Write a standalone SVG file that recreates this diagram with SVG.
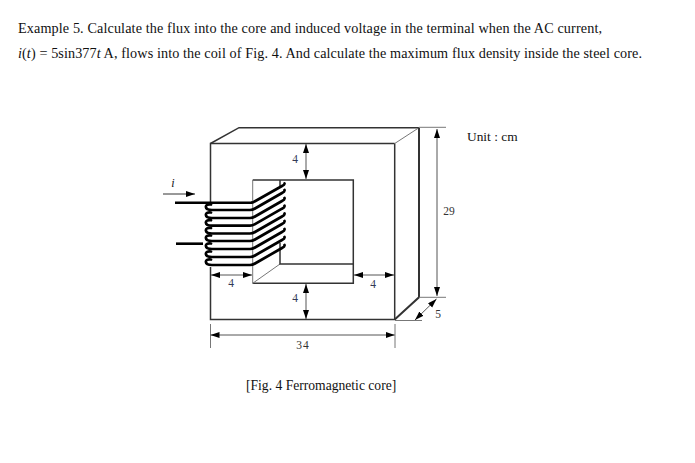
<svg xmlns="http://www.w3.org/2000/svg" width="695" height="463" viewBox="0 0 695 463">
<style>
text{font-family:"Liberation Serif","Times New Roman",serif;fill:#111}
.body{font-size:14.2px}
.dim{font-size:11.5px;fill:#333a55;text-anchor:middle}
.dimk{font-size:11.5px;fill:#333;text-anchor:middle}
.edge{fill:none;stroke:#333;stroke-width:1.5}
.edgeb{fill:none;stroke:#333;stroke-width:2}
.thin{fill:none;stroke:#777;stroke-width:1}
.dimline{fill:none;stroke:#555;stroke-width:1;marker-start:url(#ah);marker-end:url(#ah)}
.turn{fill:none;stroke:#000;stroke-width:2.7;stroke-linecap:round;stroke-linejoin:round}
.lead{fill:none;stroke:#000;stroke-width:2.6}
</style>
<defs>
<marker id="ah" markerUnits="userSpaceOnUse" markerWidth="10" markerHeight="7" refX="9" refY="3" orient="auto-start-reverse"><path d="M0,0L9,3L0,6Z" fill="#000"/></marker>
<path id="turn" d="M211,-5.5C204,-6.5 204,0 212,0H250Q252.5,0 255,-1.5L282,-17Q285,-18.5 284.5,-20"/>
</defs>
<g id="question">
<text class="body" x="18" y="33" textLength="584">Example 5. Calculate the flux into the core and induced voltage in the terminal when the AC current,</text>
<text class="body" x="18" y="58" textLength="624"><tspan font-style="italic">i</tspan>(<tspan font-style="italic">t</tspan>) = 5sin377<tspan font-style="italic">t</tspan> A, flows into the coil of Fig. 4. And calculate the maximum flux density inside the steel core.</text>
</g>
<text id="unit" x="467" y="141" font-size="13.4">Unit : cm</text>
<g id="core">
<path class="edge" d="M394.7,143.5H210.5V202M210.5,267V319.5H394.7V143.5"/>
<path class="edge" d="M210.5,143.5L239,127.7H419"/>
<path class="thin" d="M394.7,143.5L419,127.7"/>
<path class="edgeb" d="M419,127.7V297.3L394.7,319.5"/>
<path class="edge" d="M252.7,180H353.3V283.3H252.7"/>
<path class="thin" d="M252.7,180V283.3L280,264"/>
<path class="edge" d="M280,243V264H353.3M280,180V186"/>
</g>
<g id="coil">
<use class="turn" href="#turn" y="210"/>
<use class="turn" href="#turn" y="218"/>
<use class="turn" href="#turn" y="225.7"/>
<use class="turn" href="#turn" y="233.5"/>
<use class="turn" href="#turn" y="241"/>
<use class="turn" href="#turn" y="249"/>
<use class="turn" href="#turn" y="257"/>
<use class="turn" href="#turn" y="265"/>
<path class="turn" d="M252,202.7Q253,202.7 255,201.2L282,186Q285,184.5 284.5,183.5"/>
<path class="lead" d="M175,202.7H252"/>
<path class="lead" d="M176,243.7H203"/>
</g>
<g id="connectors">
<path class="thin" d="M419,127.3H446M419,297.3H446M395,320.5H422M210.5,324V348M395,324V348"/>
<path class="dimline" d="M437,129V296"/>
<path class="dimline" d="M436.5,299L415,320"/>
<path class="dimline" d="M210.5,335H394.7"/>
<path class="dimline" d="M306,144V179"/>
<path class="dimline" d="M306,284V319"/>
<path class="dimline" d="M211,275H252"/>
<path class="dimline" d="M354,275H394"/>
<path d="M163,194H195" fill="none" stroke="#333" stroke-width="1" marker-end="url(#ah)"/>
</g>
<g id="labels">
<text class="dim" x="295" y="163">4</text>
<text class="dim" x="295" y="302">4</text>
<text class="dim" x="231" y="287">4</text>
<text class="dim" x="373" y="288">4</text>
<text class="dimk" x="449" y="215">29</text>
<text class="dimk" x="438" y="318">5</text>
<text class="dimk" x="303" y="349" letter-spacing="1">34</text>
<text x="173" y="187" font-size="12" font-style="italic" text-anchor="middle">i</text>
</g>
<text id="caption" x="246" y="390" font-size="13.6">[Fig. 4 Ferromagnetic core]</text>
</svg>
